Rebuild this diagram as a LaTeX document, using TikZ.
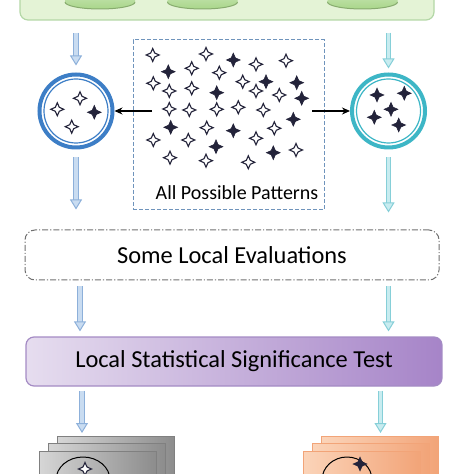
\documentclass[tikz,border=0pt]{standalone}
\usepackage{fontspec}
\setmainfont{Carlito}
\usetikzlibrary{arrows.meta,positioning}

\definecolor{ringblue}{HTML}{3D7EC6}
\definecolor{ringteal}{HTML}{3DB6C6}
\definecolor{starink}{HTML}{23233A}
\definecolor{flowblue}{HTML}{8DB0DA}
\definecolor{flowblueL}{HTML}{C9DCF1}
\definecolor{flowteal}{HTML}{86CFD8}
\definecolor{flowtealL}{HTML}{C8ECF0}
\definecolor{srcgreen}{HTML}{E4F3D6}
\definecolor{srcedge}{HTML}{B3D7A6}
\definecolor{cylgreen}{HTML}{A9D68A}
\definecolor{pooledge}{HTML}{6F94BC}
\definecolor{evaledge}{HTML}{707070}
\definecolor{testL}{HTML}{E6DDEF}
\definecolor{testR}{HTML}{A684C8}
\definecolor{testedge}{HTML}{A48BC4}
\definecolor{cardL}{HTML}{D6D6D6}
\definecolor{cardR}{HTML}{8C8C8C}
\definecolor{orangeL}{HTML}{FBD4B9}
\definecolor{orangeR}{HTML}{F2A478}

\tikzset{
	vflowL/.style={draw=flowblue, double=flowblueL, double distance=1.8pt, line width=0.5pt,
		-{Triangle[length=5pt,width=6pt,fill=flowblueL]}},
	vflowR/.style={draw=flowteal, double=flowtealL, double distance=1.8pt, line width=0.5pt,
		-{Triangle[length=5pt,width=6pt,fill=flowtealL]}},
	pick/.style={draw=black, line width=0.6pt, -{Stealth[length=4pt,width=3.5pt]}},
	ring/.style={circle, line width=2pt, minimum size=36.5pt, inner sep=0pt},
	card/.style={anchor=north west, minimum width=58.5pt, minimum height=30pt, inner sep=0pt},
	pics/pstar/.style={code={
		\path[#1] (0,6.5)--(2,2)--(6.5,0)--(2,-2)--(0,-6.5)--(-2,-2)--(-6.5,0)--(-2,2)--cycle;}},
	hollow/.style={draw=starink, fill=white, line width=0.55pt},
	solid/.style={fill=starink, draw=starink, line width=0.3pt, scale=1.05}
}

\begin{document}
\begin{tikzpicture}[x=0.5pt, y=-0.5pt]
	\useasboundingbox (0,0) rectangle (474,474);
	\clip (0,0) rectangle (474,474);

	%source panel
	\node[draw=srcedge, fill=srcgreen, rounded corners=4pt, line width=0.6pt,
		minimum width=207pt, minimum height=25pt] (src) at (227,-5) {};
	\foreach \cx in {100,202.5,362.5}{
		\shade[top color=cylgreen!40, bottom color=cylgreen] (\cx-35,-20) -- (\cx-35,2)
			arc[start angle=180, end angle=0, x radius=35, y radius=7] -- (\cx+35,-20) -- cycle;
		\draw[cylgreen!80!black, line width=0.5pt] (\cx-35,2)
			arc[start angle=180, end angle=0, x radius=35, y radius=7];
	}

	%pattern pool
	\node[draw=pooledge, dash pattern=on 2pt off 1pt, line width=0.5pt,
		minimum width=95.5pt, minimum height=85pt] (pool) at (228.5,125) {};
	\node (poolcap) at (237,193) {\fontsize{10}{12}\selectfont All Possible Patterns};
	\foreach \sx/\sy in {152.7/55, 206/54, 256/64.3, 286/60.7, 191.7/68.3, 219.3/72.7,
		242.7/81.7, 153.3/83.3, 169.3/91, 191.7/88.3, 256/91, 279.3/95, 169.3/109,
		189.3/110, 216.7/109.3, 238.3/107.3, 263.3/110, 206.7/127.7, 274.3/128.3,
		153.3/140, 188.3/140, 256/138.3, 296/150, 170/157.7, 206/160.7, 248.3/162.3}
		\pic at (\sx,\sy) {pstar=hollow};
	\foreach \sx/\sy in {233.3/60, 168.3/71.7, 266/81.7, 296.7/82.7, 216.7/92.7,
		301.7/98.3, 293.3/119.3, 170.7/127.3, 233.3/130.7, 216/146.7, 273.3/152.7}
		\pic at (\sx,\sy) {pstar=solid};

	%selected patterns
	\node[ring, draw=ringblue] (selL) at (76,111) {};
	\draw[ringblue, line width=0.6pt] (selL.center) circle[radius=32];
	\node[ring, draw=ringteal] (selR) at (388.5,111) {};
	\draw[ringteal, line width=0.6pt] (selR.center) circle[radius=32];
	\foreach \sx/\sy in {80/98.3, 57.3/109.3, 71.7/126.7}
		\pic at (\sx,\sy) {pstar=hollow};
	\pic at (94.3,112.3) {pstar=solid};
	\foreach \sx/\sy in {377/95, 404.3/93.3, 391/109.3, 374.3/117.3, 398.7/125}
		\pic at (\sx,\sy) {pstar=solid};

	\coordinate (pickL) at (152,111);
	\coordinate (pickR) at (312,111);
	\draw[pick] (pickL) -- (selL.east);
	\draw[pick] (pickR) -- (selR.west);

	%evaluation and test
	\node[draw=evaledge, dash pattern=on 3pt off 1pt on 0.6pt off 1pt, line width=0.5pt,
		rounded corners=5pt, minimum width=207pt, minimum height=25pt] (evalbox) at (232,255)
		{\fontsize{12.2}{14}\selectfont Some Local Evaluations};
	\node[draw=testedge, left color=testL, right color=testR, line width=0.6pt,
		rounded corners=4pt, minimum width=208pt, minimum height=24.5pt] (testbox) at (234,361.5)
		{\fontsize{12.2}{14}\selectfont Local Statistical Significance Test};

	%result stacks
	\node[card, draw=gray, left color=cardL, right color=cardR] (gback) at (57,436) {};
	\node[card, draw=gray, left color=cardL, right color=cardR] (gmid) at (48,443) {};
	\node[card, draw=gray, left color=cardL, right color=cardR] (gfront) at (39,451) {};
	\draw[black, line width=0.5pt] (83,480) ellipse[x radius=27, y radius=23];
	\pic at (85,469) {pstar=hollow};
	\node[card, draw=orangeR, left color=orangeL, right color=orangeR] (oback) at (321,436) {};
	\node[card, draw=orangeR, left color=orangeL, right color=orangeR] (omid) at (312,443) {};
	\node[card, draw=orangeR, left color=orangeL, right color=orangeR] (ofront) at (303,451) {};
	\draw[black, line width=0.5pt] (347,480) ellipse[x radius=25, y radius=23];
	\pic at (360,464) {pstar=solid};

	%flow arrows
	\draw[vflowL, shorten <=6pt, shorten >=3.5pt] (src.south -| selL) -- (selL.north);
	\draw[vflowR, shorten <=6pt, shorten >=2pt] (src.south -| selR) -- (selR.north);
	\draw[vflowL, shorten <=4pt, shorten >=10pt] (selL.south) -- (selL |- evalbox.north);
	\draw[vflowR, shorten <=4pt, shorten >=8.5pt] (selR.south) -- (selR |- evalbox.north);
	\draw[vflowL, shorten <=3pt, shorten >=2.5pt] ([xshift=2pt]selL |- evalbox.south) -- ([xshift=2pt]selL |- testbox.north);
	\draw[vflowR, shorten <=3pt, shorten >=2.5pt] (selR |- evalbox.south) -- (selR |- testbox.north);
	\draw[vflowL, shorten <=2pt, shorten >=1.5pt] ([xshift=3pt]selL |- testbox.south) -- ([xshift=3pt]selL |- gback.north);
	\draw[vflowR, shorten <=2pt, shorten >=1.5pt] ([xshift=-4pt]selR |- testbox.south) -- ([xshift=-4pt]selR |- oback.north);
\end{tikzpicture}
\end{document}
